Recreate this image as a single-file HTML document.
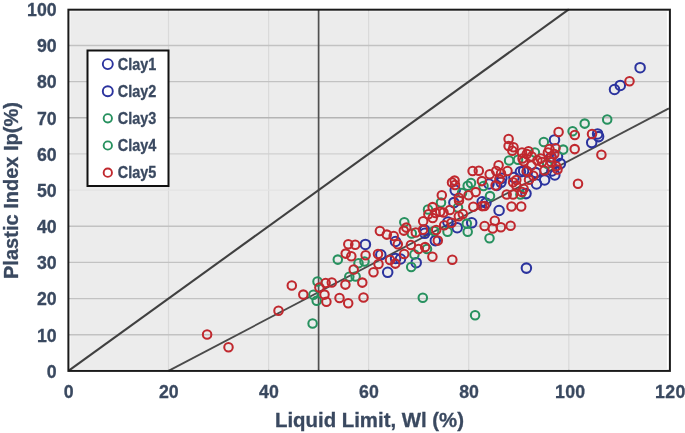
<!DOCTYPE html>
<html><head><meta charset="utf-8"><style>
html,body{margin:0;padding:0;background:#fff;}
svg{display:block;filter:blur(0.35px);}
text{font-family:"Liberation Sans",Arial,sans-serif;font-weight:bold;fill:#3a4960;stroke:#3a4960;stroke-width:0.3px;}
</style></head><body>
<svg width="685" height="433" viewBox="0 0 685 433">
<rect x="0" y="0" width="685" height="433" fill="#fff"/>

<rect x="70.4" y="11.3" width="596.5" height="357.6" fill="#ececec"/>
<line x1="168.5" y1="9.3" x2="168.5" y2="370.9" stroke="#dadada" stroke-width="1.2"/>
<line x1="268.6" y1="9.3" x2="268.6" y2="370.9" stroke="#dadada" stroke-width="1.2"/>
<line x1="368.6" y1="9.3" x2="368.6" y2="370.9" stroke="#dadada" stroke-width="1.2"/>
<line x1="468.7" y1="9.3" x2="468.7" y2="370.9" stroke="#dadada" stroke-width="1.2"/>
<line x1="568.8" y1="9.3" x2="568.8" y2="370.9" stroke="#dadada" stroke-width="1.2"/>
<line x1="68.4" y1="334.7" x2="668.9" y2="334.7" stroke="#c2c2c2" stroke-width="1.4"/>
<line x1="68.4" y1="298.6" x2="668.9" y2="298.6" stroke="#c2c2c2" stroke-width="1.4"/>
<line x1="68.4" y1="262.4" x2="668.9" y2="262.4" stroke="#c2c2c2" stroke-width="1.4"/>
<line x1="68.4" y1="226.3" x2="668.9" y2="226.3" stroke="#c2c2c2" stroke-width="1.4"/>
<line x1="68.4" y1="190.1" x2="668.9" y2="190.1" stroke="#e3e3e3" stroke-width="1.4"/>
<line x1="68.4" y1="153.9" x2="668.9" y2="153.9" stroke="#d0d0d0" stroke-width="1.4"/>
<line x1="68.4" y1="117.8" x2="668.9" y2="117.8" stroke="#b4b4b4" stroke-width="1.4"/>
<line x1="68.4" y1="81.6" x2="668.9" y2="81.6" stroke="#c2c2c2" stroke-width="1.4"/>
<line x1="68.4" y1="45.5" x2="668.9" y2="45.5" stroke="#c2c2c2" stroke-width="1.4"/>
<line x1="318.6" y1="9.3" x2="318.6" y2="370.9" stroke="#505050" stroke-width="1.7"/>
<line x1="68.4" y1="370.9" x2="568.8" y2="9.3" stroke="#404040" stroke-width="2.1"/>
<line x1="168.5" y1="370.9" x2="668.9" y2="108.4" stroke="#4a4a4a" stroke-width="1.8"/>
<rect x="68.4" y="9.7" width="601.5" height="361.2" fill="none" stroke="#1a1a1a" stroke-width="2"/>
<circle cx="365.4" cy="244.4" r="4.75" fill="none" stroke="#2b339e" stroke-width="2.05"/>
<circle cx="380.8" cy="254.8" r="4.75" fill="none" stroke="#2b339e" stroke-width="2.05"/>
<circle cx="387.7" cy="272.3" r="4.75" fill="none" stroke="#2b339e" stroke-width="2.05"/>
<circle cx="395.6" cy="258.5" r="4.75" fill="none" stroke="#2b339e" stroke-width="2.05"/>
<circle cx="395.5" cy="241.5" r="4.75" fill="none" stroke="#2b339e" stroke-width="2.05"/>
<circle cx="400.5" cy="259.0" r="4.75" fill="none" stroke="#2b339e" stroke-width="2.05"/>
<circle cx="416.2" cy="262.7" r="4.75" fill="none" stroke="#2b339e" stroke-width="2.05"/>
<circle cx="424.6" cy="230.1" r="4.75" fill="none" stroke="#2b339e" stroke-width="2.05"/>
<circle cx="489.0" cy="184.0" r="4.75" fill="none" stroke="#2b339e" stroke-width="2.05"/>
<circle cx="455.2" cy="190.3" r="4.75" fill="none" stroke="#2b339e" stroke-width="2.05"/>
<circle cx="453.9" cy="202.6" r="4.75" fill="none" stroke="#2b339e" stroke-width="2.05"/>
<circle cx="482.2" cy="201.8" r="4.75" fill="none" stroke="#2b339e" stroke-width="2.05"/>
<circle cx="485.9" cy="202.9" r="4.75" fill="none" stroke="#2b339e" stroke-width="2.05"/>
<circle cx="499.1" cy="210.5" r="4.75" fill="none" stroke="#2b339e" stroke-width="2.05"/>
<circle cx="471.7" cy="222.8" r="4.75" fill="none" stroke="#2b339e" stroke-width="2.05"/>
<circle cx="447.9" cy="222.0" r="4.75" fill="none" stroke="#2b339e" stroke-width="2.05"/>
<circle cx="457.2" cy="227.7" r="4.75" fill="none" stroke="#2b339e" stroke-width="2.05"/>
<circle cx="424.8" cy="233.3" r="4.75" fill="none" stroke="#2b339e" stroke-width="2.05"/>
<circle cx="435.3" cy="240.6" r="4.75" fill="none" stroke="#2b339e" stroke-width="2.05"/>
<circle cx="551.1" cy="157.3" r="4.75" fill="none" stroke="#2b339e" stroke-width="2.05"/>
<circle cx="557.5" cy="156.5" r="4.75" fill="none" stroke="#2b339e" stroke-width="2.05"/>
<circle cx="520.4" cy="171.8" r="4.75" fill="none" stroke="#2b339e" stroke-width="2.05"/>
<circle cx="523.6" cy="171.0" r="4.75" fill="none" stroke="#2b339e" stroke-width="2.05"/>
<circle cx="535.7" cy="172.6" r="4.75" fill="none" stroke="#2b339e" stroke-width="2.05"/>
<circle cx="551.9" cy="171.0" r="4.75" fill="none" stroke="#2b339e" stroke-width="2.05"/>
<circle cx="554.8" cy="174.9" r="4.75" fill="none" stroke="#2b339e" stroke-width="2.05"/>
<circle cx="501.8" cy="178.3" r="4.75" fill="none" stroke="#2b339e" stroke-width="2.05"/>
<circle cx="513.9" cy="177.5" r="4.75" fill="none" stroke="#2b339e" stroke-width="2.05"/>
<circle cx="536.5" cy="183.9" r="4.75" fill="none" stroke="#2b339e" stroke-width="2.05"/>
<circle cx="544.6" cy="179.9" r="4.75" fill="none" stroke="#2b339e" stroke-width="2.05"/>
<circle cx="501.0" cy="182.3" r="4.75" fill="none" stroke="#2b339e" stroke-width="2.05"/>
<circle cx="526.0" cy="193.6" r="4.75" fill="none" stroke="#2b339e" stroke-width="2.05"/>
<circle cx="526.4" cy="268.1" r="4.75" fill="none" stroke="#2b339e" stroke-width="2.05"/>
<circle cx="640.1" cy="67.7" r="4.75" fill="none" stroke="#2b339e" stroke-width="2.05"/>
<circle cx="620.3" cy="85.4" r="4.75" fill="none" stroke="#2b339e" stroke-width="2.05"/>
<circle cx="614.5" cy="89.5" r="4.75" fill="none" stroke="#2b339e" stroke-width="2.05"/>
<circle cx="597.6" cy="133.9" r="4.75" fill="none" stroke="#2b339e" stroke-width="2.05"/>
<circle cx="598.6" cy="136.6" r="4.75" fill="none" stroke="#2b339e" stroke-width="2.05"/>
<circle cx="591.7" cy="142.6" r="4.75" fill="none" stroke="#2b339e" stroke-width="2.05"/>
<circle cx="554.5" cy="139.9" r="4.75" fill="none" stroke="#2b339e" stroke-width="2.05"/>
<circle cx="560.4" cy="163.6" r="4.75" fill="none" stroke="#2b339e" stroke-width="2.05"/>
<circle cx="527.3" cy="172.0" r="4.75" fill="none" stroke="#2b339e" stroke-width="2.05"/>
<circle cx="496.8" cy="185.5" r="4.75" fill="none" stroke="#2b339e" stroke-width="2.05"/>
<circle cx="317.5" cy="281.5" r="4.25" fill="none" stroke="#27915f" stroke-width="2.05"/>
<circle cx="313.4" cy="294.7" r="4.25" fill="none" stroke="#27915f" stroke-width="2.05"/>
<circle cx="316.7" cy="300.8" r="4.25" fill="none" stroke="#27915f" stroke-width="2.05"/>
<circle cx="312.6" cy="323.4" r="4.25" fill="none" stroke="#27915f" stroke-width="2.05"/>
<circle cx="349.3" cy="276.8" r="4.25" fill="none" stroke="#27915f" stroke-width="2.05"/>
<circle cx="355.6" cy="276.5" r="4.25" fill="none" stroke="#27915f" stroke-width="2.05"/>
<circle cx="337.8" cy="259.6" r="4.25" fill="none" stroke="#27915f" stroke-width="2.05"/>
<circle cx="358.5" cy="263.3" r="4.25" fill="none" stroke="#27915f" stroke-width="2.05"/>
<circle cx="364.5" cy="261.5" r="4.25" fill="none" stroke="#27915f" stroke-width="2.05"/>
<circle cx="427.0" cy="249.0" r="4.25" fill="none" stroke="#27915f" stroke-width="2.05"/>
<circle cx="414.4" cy="254.4" r="4.25" fill="none" stroke="#27915f" stroke-width="2.05"/>
<circle cx="411.2" cy="266.9" r="4.25" fill="none" stroke="#27915f" stroke-width="2.05"/>
<circle cx="404.3" cy="222.2" r="4.25" fill="none" stroke="#27915f" stroke-width="2.05"/>
<circle cx="428.0" cy="209.4" r="4.25" fill="none" stroke="#27915f" stroke-width="2.05"/>
<circle cx="434.1" cy="230.9" r="4.25" fill="none" stroke="#27915f" stroke-width="2.05"/>
<circle cx="467.7" cy="185.7" r="4.25" fill="none" stroke="#27915f" stroke-width="2.05"/>
<circle cx="471.0" cy="183.0" r="4.25" fill="none" stroke="#27915f" stroke-width="2.05"/>
<circle cx="483.5" cy="186.0" r="4.25" fill="none" stroke="#27915f" stroke-width="2.05"/>
<circle cx="490.0" cy="196.1" r="4.25" fill="none" stroke="#27915f" stroke-width="2.05"/>
<circle cx="462.0" cy="193.0" r="4.25" fill="none" stroke="#27915f" stroke-width="2.05"/>
<circle cx="441.0" cy="202.6" r="4.25" fill="none" stroke="#27915f" stroke-width="2.05"/>
<circle cx="458.0" cy="207.5" r="4.25" fill="none" stroke="#27915f" stroke-width="2.05"/>
<circle cx="466.8" cy="223.6" r="4.25" fill="none" stroke="#27915f" stroke-width="2.05"/>
<circle cx="467.7" cy="231.7" r="4.25" fill="none" stroke="#27915f" stroke-width="2.05"/>
<circle cx="447.5" cy="231.7" r="4.25" fill="none" stroke="#27915f" stroke-width="2.05"/>
<circle cx="489.5" cy="238.2" r="4.25" fill="none" stroke="#27915f" stroke-width="2.05"/>
<circle cx="534.9" cy="152.4" r="4.25" fill="none" stroke="#27915f" stroke-width="2.05"/>
<circle cx="509.1" cy="160.5" r="4.25" fill="none" stroke="#27915f" stroke-width="2.05"/>
<circle cx="518.0" cy="159.7" r="4.25" fill="none" stroke="#27915f" stroke-width="2.05"/>
<circle cx="547.2" cy="163.7" r="4.25" fill="none" stroke="#27915f" stroke-width="2.05"/>
<circle cx="520.4" cy="194.4" r="4.25" fill="none" stroke="#27915f" stroke-width="2.05"/>
<circle cx="422.8" cy="297.7" r="4.25" fill="none" stroke="#27915f" stroke-width="2.05"/>
<circle cx="475.1" cy="315.2" r="4.25" fill="none" stroke="#27915f" stroke-width="2.05"/>
<circle cx="607.2" cy="119.5" r="4.25" fill="none" stroke="#27915f" stroke-width="2.05"/>
<circle cx="584.7" cy="123.6" r="4.25" fill="none" stroke="#27915f" stroke-width="2.05"/>
<circle cx="572.6" cy="131.2" r="4.25" fill="none" stroke="#27915f" stroke-width="2.05"/>
<circle cx="543.8" cy="141.9" r="4.25" fill="none" stroke="#27915f" stroke-width="2.05"/>
<circle cx="563.2" cy="149.6" r="4.25" fill="none" stroke="#27915f" stroke-width="2.05"/>
<circle cx="411.8" cy="233.4" r="4.25" fill="none" stroke="#27915f" stroke-width="2.05"/>
<circle cx="207.1" cy="334.4" r="4.25" fill="none" stroke="#c0282e" stroke-width="2.05"/>
<circle cx="228.5" cy="347.3" r="4.25" fill="none" stroke="#c0282e" stroke-width="2.05"/>
<circle cx="278.5" cy="310.8" r="4.25" fill="none" stroke="#c0282e" stroke-width="2.05"/>
<circle cx="291.8" cy="285.5" r="4.25" fill="none" stroke="#c0282e" stroke-width="2.05"/>
<circle cx="303.3" cy="294.6" r="4.25" fill="none" stroke="#c0282e" stroke-width="2.05"/>
<circle cx="319.4" cy="287.4" r="4.25" fill="none" stroke="#c0282e" stroke-width="2.05"/>
<circle cx="325.6" cy="283.0" r="4.25" fill="none" stroke="#c0282e" stroke-width="2.05"/>
<circle cx="331.8" cy="282.5" r="4.25" fill="none" stroke="#c0282e" stroke-width="2.05"/>
<circle cx="324.5" cy="294.6" r="4.25" fill="none" stroke="#c0282e" stroke-width="2.05"/>
<circle cx="326.4" cy="301.7" r="4.25" fill="none" stroke="#c0282e" stroke-width="2.05"/>
<circle cx="339.5" cy="298.0" r="4.25" fill="none" stroke="#c0282e" stroke-width="2.05"/>
<circle cx="348.2" cy="303.3" r="4.25" fill="none" stroke="#c0282e" stroke-width="2.05"/>
<circle cx="345.4" cy="284.6" r="4.25" fill="none" stroke="#c0282e" stroke-width="2.05"/>
<circle cx="353.7" cy="269.5" r="4.25" fill="none" stroke="#c0282e" stroke-width="2.05"/>
<circle cx="362.3" cy="282.6" r="4.25" fill="none" stroke="#c0282e" stroke-width="2.05"/>
<circle cx="363.5" cy="297.5" r="4.25" fill="none" stroke="#c0282e" stroke-width="2.05"/>
<circle cx="348.3" cy="244.2" r="4.25" fill="none" stroke="#c0282e" stroke-width="2.05"/>
<circle cx="355.2" cy="244.8" r="4.25" fill="none" stroke="#c0282e" stroke-width="2.05"/>
<circle cx="345.7" cy="253.6" r="4.25" fill="none" stroke="#c0282e" stroke-width="2.05"/>
<circle cx="351.3" cy="256.2" r="4.25" fill="none" stroke="#c0282e" stroke-width="2.05"/>
<circle cx="365.6" cy="255.2" r="4.25" fill="none" stroke="#c0282e" stroke-width="2.05"/>
<circle cx="373.5" cy="272.3" r="4.25" fill="none" stroke="#c0282e" stroke-width="2.05"/>
<circle cx="378.0" cy="253.9" r="4.25" fill="none" stroke="#c0282e" stroke-width="2.05"/>
<circle cx="378.5" cy="264.0" r="4.25" fill="none" stroke="#c0282e" stroke-width="2.05"/>
<circle cx="390.0" cy="260.0" r="4.25" fill="none" stroke="#c0282e" stroke-width="2.05"/>
<circle cx="395.3" cy="263.6" r="4.25" fill="none" stroke="#c0282e" stroke-width="2.05"/>
<circle cx="379.9" cy="230.9" r="4.25" fill="none" stroke="#c0282e" stroke-width="2.05"/>
<circle cx="386.8" cy="234.6" r="4.25" fill="none" stroke="#c0282e" stroke-width="2.05"/>
<circle cx="393.7" cy="236.0" r="4.25" fill="none" stroke="#c0282e" stroke-width="2.05"/>
<circle cx="397.8" cy="244.2" r="4.25" fill="none" stroke="#c0282e" stroke-width="2.05"/>
<circle cx="410.9" cy="244.9" r="4.25" fill="none" stroke="#c0282e" stroke-width="2.05"/>
<circle cx="418.6" cy="248.9" r="4.25" fill="none" stroke="#c0282e" stroke-width="2.05"/>
<circle cx="425.1" cy="247.1" r="4.25" fill="none" stroke="#c0282e" stroke-width="2.05"/>
<circle cx="404.2" cy="253.9" r="4.25" fill="none" stroke="#c0282e" stroke-width="2.05"/>
<circle cx="432.4" cy="256.7" r="4.25" fill="none" stroke="#c0282e" stroke-width="2.05"/>
<circle cx="406.3" cy="227.6" r="4.25" fill="none" stroke="#c0282e" stroke-width="2.05"/>
<circle cx="403.8" cy="230.6" r="4.25" fill="none" stroke="#c0282e" stroke-width="2.05"/>
<circle cx="415.8" cy="232.4" r="4.25" fill="none" stroke="#c0282e" stroke-width="2.05"/>
<circle cx="423.2" cy="221.2" r="4.25" fill="none" stroke="#c0282e" stroke-width="2.05"/>
<circle cx="423.0" cy="229.8" r="4.25" fill="none" stroke="#c0282e" stroke-width="2.05"/>
<circle cx="432.6" cy="207.1" r="4.25" fill="none" stroke="#c0282e" stroke-width="2.05"/>
<circle cx="428.4" cy="214.2" r="4.25" fill="none" stroke="#c0282e" stroke-width="2.05"/>
<circle cx="432.7" cy="218.0" r="4.25" fill="none" stroke="#c0282e" stroke-width="2.05"/>
<circle cx="452.0" cy="182.5" r="4.25" fill="none" stroke="#c0282e" stroke-width="2.05"/>
<circle cx="455.0" cy="185.0" r="4.25" fill="none" stroke="#c0282e" stroke-width="2.05"/>
<circle cx="481.9" cy="181.1" r="4.25" fill="none" stroke="#c0282e" stroke-width="2.05"/>
<circle cx="495.6" cy="185.6" r="4.25" fill="none" stroke="#c0282e" stroke-width="2.05"/>
<circle cx="441.8" cy="195.3" r="4.25" fill="none" stroke="#c0282e" stroke-width="2.05"/>
<circle cx="458.8" cy="197.8" r="4.25" fill="none" stroke="#c0282e" stroke-width="2.05"/>
<circle cx="459.0" cy="200.5" r="4.25" fill="none" stroke="#c0282e" stroke-width="2.05"/>
<circle cx="468.5" cy="195.3" r="4.25" fill="none" stroke="#c0282e" stroke-width="2.05"/>
<circle cx="475.7" cy="192.1" r="4.25" fill="none" stroke="#c0282e" stroke-width="2.05"/>
<circle cx="473.3" cy="206.7" r="4.25" fill="none" stroke="#c0282e" stroke-width="2.05"/>
<circle cx="482.1" cy="206.1" r="4.25" fill="none" stroke="#c0282e" stroke-width="2.05"/>
<circle cx="484.5" cy="206.0" r="4.25" fill="none" stroke="#c0282e" stroke-width="2.05"/>
<circle cx="440.2" cy="211.8" r="4.25" fill="none" stroke="#c0282e" stroke-width="2.05"/>
<circle cx="449.9" cy="209.9" r="4.25" fill="none" stroke="#c0282e" stroke-width="2.05"/>
<circle cx="435.5" cy="213.0" r="4.25" fill="none" stroke="#c0282e" stroke-width="2.05"/>
<circle cx="443.5" cy="212.5" r="4.25" fill="none" stroke="#c0282e" stroke-width="2.05"/>
<circle cx="462.8" cy="213.9" r="4.25" fill="none" stroke="#c0282e" stroke-width="2.05"/>
<circle cx="458.8" cy="216.3" r="4.25" fill="none" stroke="#c0282e" stroke-width="2.05"/>
<circle cx="451.5" cy="222.8" r="4.25" fill="none" stroke="#c0282e" stroke-width="2.05"/>
<circle cx="484.6" cy="226.0" r="4.25" fill="none" stroke="#c0282e" stroke-width="2.05"/>
<circle cx="492.7" cy="228.5" r="4.25" fill="none" stroke="#c0282e" stroke-width="2.05"/>
<circle cx="494.8" cy="220.8" r="4.25" fill="none" stroke="#c0282e" stroke-width="2.05"/>
<circle cx="436.2" cy="230.0" r="4.25" fill="none" stroke="#c0282e" stroke-width="2.05"/>
<circle cx="444.2" cy="225.2" r="4.25" fill="none" stroke="#c0282e" stroke-width="2.05"/>
<circle cx="437.8" cy="240.6" r="4.25" fill="none" stroke="#c0282e" stroke-width="2.05"/>
<circle cx="512.3" cy="150.8" r="4.25" fill="none" stroke="#c0282e" stroke-width="2.05"/>
<circle cx="522.0" cy="152.4" r="4.25" fill="none" stroke="#c0282e" stroke-width="2.05"/>
<circle cx="526.8" cy="154.0" r="4.25" fill="none" stroke="#c0282e" stroke-width="2.05"/>
<circle cx="531.7" cy="156.5" r="4.25" fill="none" stroke="#c0282e" stroke-width="2.05"/>
<circle cx="547.9" cy="152.4" r="4.25" fill="none" stroke="#c0282e" stroke-width="2.05"/>
<circle cx="554.3" cy="154.0" r="4.25" fill="none" stroke="#c0282e" stroke-width="2.05"/>
<circle cx="523.6" cy="161.3" r="4.25" fill="none" stroke="#c0282e" stroke-width="2.05"/>
<circle cx="522.5" cy="158.5" r="4.25" fill="none" stroke="#c0282e" stroke-width="2.05"/>
<circle cx="537.4" cy="160.5" r="4.25" fill="none" stroke="#c0282e" stroke-width="2.05"/>
<circle cx="540.7" cy="158.4" r="4.25" fill="none" stroke="#c0282e" stroke-width="2.05"/>
<circle cx="542.0" cy="162.0" r="4.25" fill="none" stroke="#c0282e" stroke-width="2.05"/>
<circle cx="551.1" cy="162.1" r="4.25" fill="none" stroke="#c0282e" stroke-width="2.05"/>
<circle cx="498.6" cy="165.3" r="4.25" fill="none" stroke="#c0282e" stroke-width="2.05"/>
<circle cx="531.5" cy="165.4" r="4.25" fill="none" stroke="#c0282e" stroke-width="2.05"/>
<circle cx="478.8" cy="170.8" r="4.25" fill="none" stroke="#c0282e" stroke-width="2.05"/>
<circle cx="489.7" cy="174.2" r="4.25" fill="none" stroke="#c0282e" stroke-width="2.05"/>
<circle cx="496.2" cy="171.0" r="4.25" fill="none" stroke="#c0282e" stroke-width="2.05"/>
<circle cx="501.0" cy="173.5" r="4.25" fill="none" stroke="#c0282e" stroke-width="2.05"/>
<circle cx="507.5" cy="171.0" r="4.25" fill="none" stroke="#c0282e" stroke-width="2.05"/>
<circle cx="526.8" cy="171.0" r="4.25" fill="none" stroke="#c0282e" stroke-width="2.05"/>
<circle cx="544.5" cy="170.4" r="4.25" fill="none" stroke="#c0282e" stroke-width="2.05"/>
<circle cx="557.5" cy="169.4" r="4.25" fill="none" stroke="#c0282e" stroke-width="2.05"/>
<circle cx="499.4" cy="179.1" r="4.25" fill="none" stroke="#c0282e" stroke-width="2.05"/>
<circle cx="516.3" cy="179.9" r="4.25" fill="none" stroke="#c0282e" stroke-width="2.05"/>
<circle cx="529.0" cy="179.7" r="4.25" fill="none" stroke="#c0282e" stroke-width="2.05"/>
<circle cx="533.3" cy="175.8" r="4.25" fill="none" stroke="#c0282e" stroke-width="2.05"/>
<circle cx="516.3" cy="185.5" r="4.25" fill="none" stroke="#c0282e" stroke-width="2.05"/>
<circle cx="513.1" cy="182.3" r="4.25" fill="none" stroke="#c0282e" stroke-width="2.05"/>
<circle cx="523.6" cy="188.8" r="4.25" fill="none" stroke="#c0282e" stroke-width="2.05"/>
<circle cx="506.7" cy="194.4" r="4.25" fill="none" stroke="#c0282e" stroke-width="2.05"/>
<circle cx="513.1" cy="194.4" r="4.25" fill="none" stroke="#c0282e" stroke-width="2.05"/>
<circle cx="522.0" cy="192.0" r="4.25" fill="none" stroke="#c0282e" stroke-width="2.05"/>
<circle cx="511.5" cy="206.5" r="4.25" fill="none" stroke="#c0282e" stroke-width="2.05"/>
<circle cx="521.2" cy="206.5" r="4.25" fill="none" stroke="#c0282e" stroke-width="2.05"/>
<circle cx="452.3" cy="259.7" r="4.25" fill="none" stroke="#c0282e" stroke-width="2.05"/>
<circle cx="629.5" cy="81.2" r="4.25" fill="none" stroke="#c0282e" stroke-width="2.05"/>
<circle cx="558.6" cy="131.9" r="4.25" fill="none" stroke="#c0282e" stroke-width="2.05"/>
<circle cx="574.8" cy="135.0" r="4.25" fill="none" stroke="#c0282e" stroke-width="2.05"/>
<circle cx="592.0" cy="134.0" r="4.25" fill="none" stroke="#c0282e" stroke-width="2.05"/>
<circle cx="574.7" cy="149.1" r="4.25" fill="none" stroke="#c0282e" stroke-width="2.05"/>
<circle cx="601.4" cy="154.7" r="4.25" fill="none" stroke="#c0282e" stroke-width="2.05"/>
<circle cx="578.0" cy="183.8" r="4.25" fill="none" stroke="#c0282e" stroke-width="2.05"/>
<circle cx="549.4" cy="149.0" r="4.25" fill="none" stroke="#c0282e" stroke-width="2.05"/>
<circle cx="555.5" cy="148.2" r="4.25" fill="none" stroke="#c0282e" stroke-width="2.05"/>
<circle cx="528.5" cy="151.2" r="4.25" fill="none" stroke="#c0282e" stroke-width="2.05"/>
<circle cx="551.3" cy="157.2" r="4.25" fill="none" stroke="#c0282e" stroke-width="2.05"/>
<circle cx="556.2" cy="166.2" r="4.25" fill="none" stroke="#c0282e" stroke-width="2.05"/>
<circle cx="508.6" cy="139.0" r="4.25" fill="none" stroke="#c0282e" stroke-width="2.05"/>
<circle cx="508.6" cy="145.9" r="4.25" fill="none" stroke="#c0282e" stroke-width="2.05"/>
<circle cx="513.5" cy="147.3" r="4.25" fill="none" stroke="#c0282e" stroke-width="2.05"/>
<circle cx="472.6" cy="170.9" r="4.25" fill="none" stroke="#c0282e" stroke-width="2.05"/>
<circle cx="454.6" cy="180.6" r="4.25" fill="none" stroke="#c0282e" stroke-width="2.05"/>
<circle cx="500.9" cy="227.2" r="4.25" fill="none" stroke="#c0282e" stroke-width="2.05"/>
<circle cx="510.6" cy="225.8" r="4.25" fill="none" stroke="#c0282e" stroke-width="2.05"/>
<rect x="87.5" y="50.5" width="81" height="135.5" fill="#fff" stroke="#111" stroke-width="2"/>
<circle cx="107.8" cy="64.1" r="5.00" fill="none" stroke="#2b339e" stroke-width="1.9"/>
<text x="117.8" y="69.5" font-size="15.6" textLength="38.5" lengthAdjust="spacingAndGlyphs">Clay1</text>
<circle cx="107.8" cy="91.3" r="5.00" fill="none" stroke="#2b339e" stroke-width="1.9"/>
<text x="117.8" y="96.7" font-size="15.6" textLength="38.5" lengthAdjust="spacingAndGlyphs">Clay2</text>
<circle cx="107.8" cy="118.3" r="4.15" fill="none" stroke="#27915f" stroke-width="1.9"/>
<text x="117.8" y="123.7" font-size="15.6" textLength="38.5" lengthAdjust="spacingAndGlyphs">Clay3</text>
<circle cx="107.8" cy="145.5" r="4.15" fill="none" stroke="#27915f" stroke-width="1.9"/>
<text x="117.8" y="150.9" font-size="15.6" textLength="38.5" lengthAdjust="spacingAndGlyphs">Clay4</text>
<circle cx="107.8" cy="172.7" r="4.15" fill="none" stroke="#c0282e" stroke-width="1.9"/>
<text x="117.8" y="178.1" font-size="15.6" textLength="38.5" lengthAdjust="spacingAndGlyphs">Clay5</text>
<text x="56.6" y="377.7" font-size="17.7" text-anchor="end">0</text>
<text x="56.6" y="341.5" font-size="17.7" text-anchor="end">10</text>
<text x="56.6" y="305.4" font-size="17.7" text-anchor="end">20</text>
<text x="56.6" y="269.2" font-size="17.7" text-anchor="end">30</text>
<text x="56.6" y="233.1" font-size="17.7" text-anchor="end">40</text>
<text x="56.6" y="196.9" font-size="17.7" text-anchor="end">50</text>
<text x="56.6" y="160.7" font-size="17.7" text-anchor="end">60</text>
<text x="56.6" y="124.6" font-size="17.7" text-anchor="end">70</text>
<text x="56.6" y="88.4" font-size="17.7" text-anchor="end">80</text>
<text x="56.6" y="52.3" font-size="17.7" text-anchor="end">90</text>
<text x="56.6" y="16.1" font-size="17.7" text-anchor="end" textLength="29.6">100</text>
<text x="68.7" y="397.8" font-size="17.7" text-anchor="middle">0</text>
<text x="168.8" y="397.8" font-size="17.7" text-anchor="middle">20</text>
<text x="268.9" y="397.8" font-size="17.7" text-anchor="middle">40</text>
<text x="368.9" y="397.8" font-size="17.7" text-anchor="middle">60</text>
<text x="469.0" y="397.8" font-size="17.7" text-anchor="middle">80</text>
<text x="570.1" y="397.8" font-size="17.7" text-anchor="middle" textLength="30.2">100</text>
<text x="670.2" y="397.8" font-size="17.7" text-anchor="middle" textLength="30.2">120</text>
<text x="275" y="427" font-size="20.5" textLength="189" lengthAdjust="spacingAndGlyphs">Liquid Limit, Wl (%)</text>
<text transform="translate(18,279) rotate(-90)" x="0" y="0" font-size="20.5" textLength="177" lengthAdjust="spacingAndGlyphs">Plastic Index Ip(%)</text>
</svg>
</body></html>
